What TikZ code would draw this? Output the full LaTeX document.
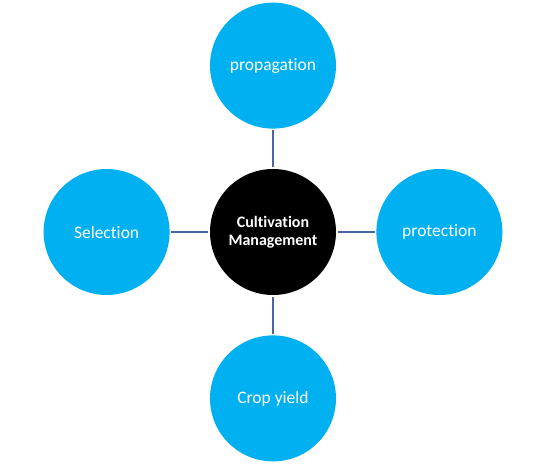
\documentclass[tikz,border=0pt]{standalone}
\usepackage{fontspec}
\setmainfont{Carlito}[Ligatures=NoCommon]
\usepackage{tikz}
\usetikzlibrary{positioning}
\definecolor{leafblue}{RGB}{0,176,240}
\definecolor{linkblue}{RGB}{70,105,165}
\tikzstyle{hub} = [circle, minimum size=126pt, inner sep=0pt, fill=black, text=white, align=center, font=\fontsize{16}{18.5}\selectfont\bfseries]
\tikzstyle{leaf} = [circle, minimum size=126pt, inner sep=0pt, fill=leafblue, text=white, font=\fontsize{17.5}{21}\selectfont]
\tikzstyle{link} = [line width=1.3pt, draw=linkblue, shorten <=1.5pt, shorten >=1.5pt]

\begin{document}
\begin{tikzpicture}[node distance=40pt]
        \useasboundingbox (-273pt,232pt) rectangle (268pt,-236pt);
        \node[hub]                      (hub)         {Cultivation\\Management};
        \node[leaf, above=of hub]       (propagation) {propagation};
        \node[leaf, right=of hub]       (protection)  {protection};
        \node[leaf, below=of hub]       (crop yield)  {Crop yield};
        \node[leaf, left=of hub]        (selection)   {Selection};

        \draw[link] (hub) -- (propagation);
        \draw[link] (hub) -- (protection);
        \draw[link] (hub) -- (crop yield);
        \draw[link] (hub) -- (selection);
    \end{tikzpicture}
\end{document}
